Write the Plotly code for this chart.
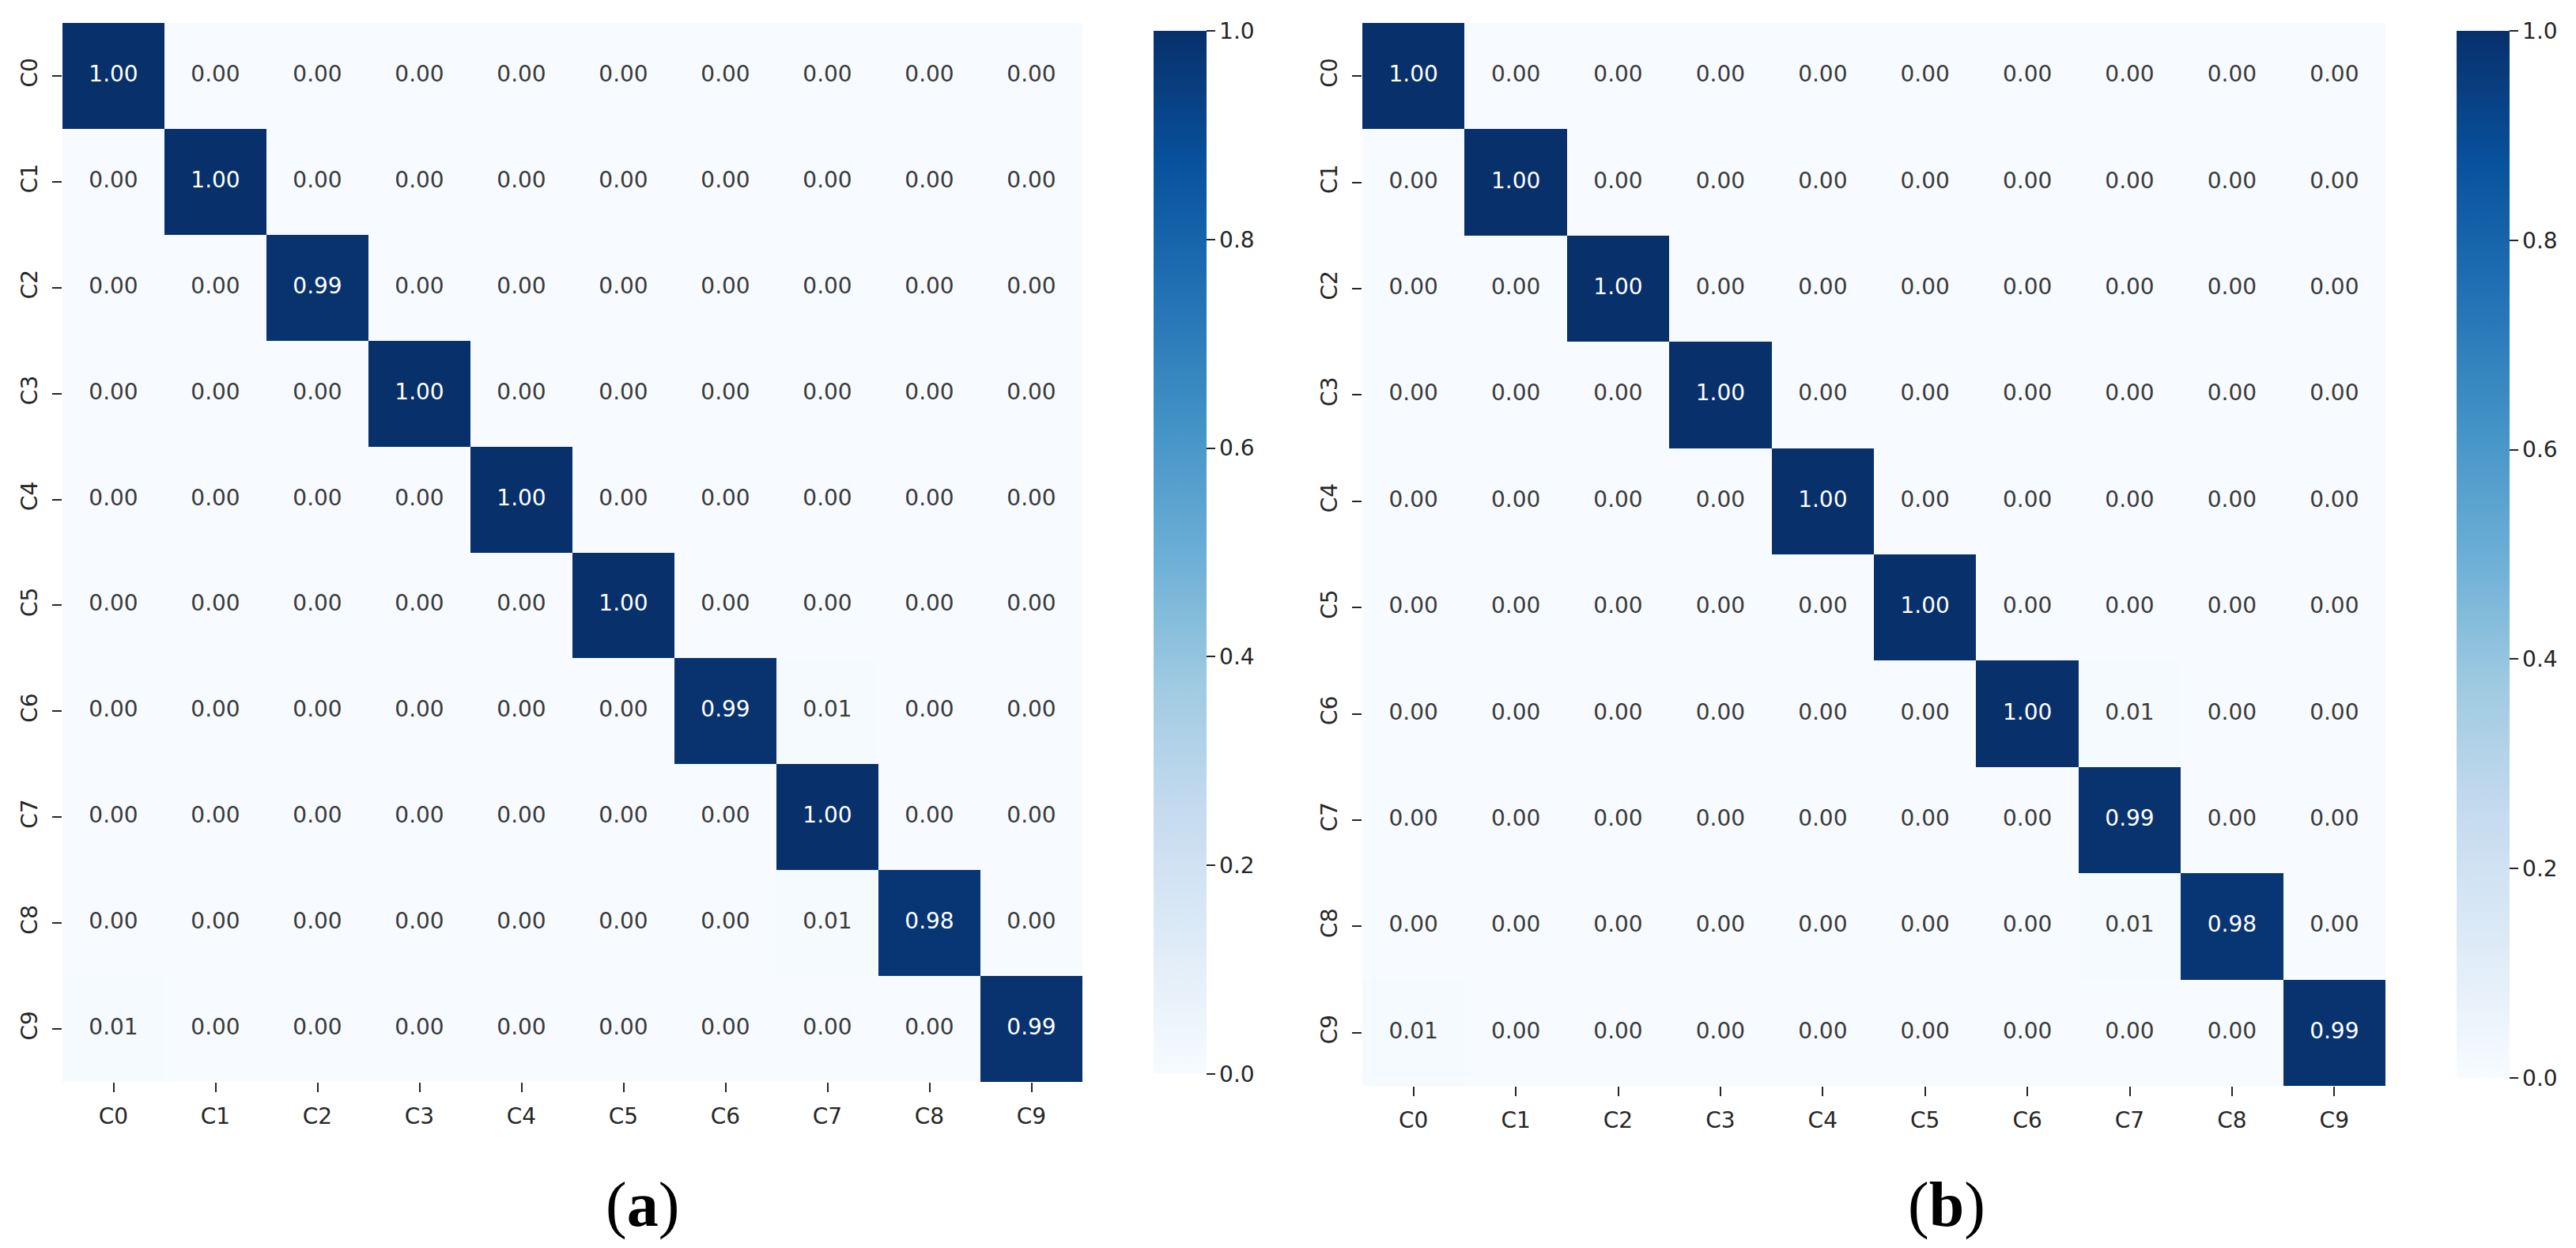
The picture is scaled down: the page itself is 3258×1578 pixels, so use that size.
import plotly.graph_objects as go

W, H = 3258, 1578

classes = ["C0", "C1", "C2", "C3", "C4", "C5", "C6", "C7", "C8", "C9"]

# Panel (a) confusion matrix (rows = true, cols = predicted)
cm_a = [
    [1.00, 0.00, 0.00, 0.00, 0.00, 0.00, 0.00, 0.00, 0.00, 0.00],
    [0.00, 1.00, 0.00, 0.00, 0.00, 0.00, 0.00, 0.00, 0.00, 0.00],
    [0.00, 0.00, 0.99, 0.00, 0.00, 0.00, 0.00, 0.00, 0.00, 0.00],
    [0.00, 0.00, 0.00, 1.00, 0.00, 0.00, 0.00, 0.00, 0.00, 0.00],
    [0.00, 0.00, 0.00, 0.00, 1.00, 0.00, 0.00, 0.00, 0.00, 0.00],
    [0.00, 0.00, 0.00, 0.00, 0.00, 1.00, 0.00, 0.00, 0.00, 0.00],
    [0.00, 0.00, 0.00, 0.00, 0.00, 0.00, 0.99, 0.01, 0.00, 0.00],
    [0.00, 0.00, 0.00, 0.00, 0.00, 0.00, 0.00, 1.00, 0.00, 0.00],
    [0.00, 0.00, 0.00, 0.00, 0.00, 0.00, 0.00, 0.01, 0.98, 0.00],
    [0.01, 0.00, 0.00, 0.00, 0.00, 0.00, 0.00, 0.00, 0.00, 0.99],
]

# Panel (b) confusion matrix
cm_b = [
    [1.00, 0.00, 0.00, 0.00, 0.00, 0.00, 0.00, 0.00, 0.00, 0.00],
    [0.00, 1.00, 0.00, 0.00, 0.00, 0.00, 0.00, 0.00, 0.00, 0.00],
    [0.00, 0.00, 1.00, 0.00, 0.00, 0.00, 0.00, 0.00, 0.00, 0.00],
    [0.00, 0.00, 0.00, 1.00, 0.00, 0.00, 0.00, 0.00, 0.00, 0.00],
    [0.00, 0.00, 0.00, 0.00, 1.00, 0.00, 0.00, 0.00, 0.00, 0.00],
    [0.00, 0.00, 0.00, 0.00, 0.00, 1.00, 0.00, 0.00, 0.00, 0.00],
    [0.00, 0.00, 0.00, 0.00, 0.00, 0.00, 1.00, 0.01, 0.00, 0.00],
    [0.00, 0.00, 0.00, 0.00, 0.00, 0.00, 0.00, 0.99, 0.00, 0.00],
    [0.00, 0.00, 0.00, 0.00, 0.00, 0.00, 0.00, 0.01, 0.98, 0.00],
    [0.01, 0.00, 0.00, 0.00, 0.00, 0.00, 0.00, 0.00, 0.00, 0.99],
]

cbar_ticks = [0.0, 0.2, 0.4, 0.6, 0.8, 1.0]
panel_labels = ["(<b>a</b>)", "(<b>b</b>)"]

blues = [
    [0.0, "#f7fbff"], [0.125, "#deebf7"], [0.25, "#c6dbef"],
    [0.375, "#9ecae1"], [0.5, "#6baed6"], [0.625, "#4292c6"],
    [0.75, "#2171b5"], [0.875, "#08519c"], [1.0, "#08306b"],
]

DARK = "#262626"
CELL_DARK = "#3a3a3a"
FONT = "DejaVu Sans"

def px_x(p):
    return p / W

def px_y(p):
    return 1 - p / H

panels = [
    dict(cm=cm_a, x0=79, x1=1369, y0=29, y1=1368, cb_x=1449, label_x=812),
    dict(cm=cm_b, x0=1723, x1=3017, y0=29, y1=1373, cb_x=3097, label_x=2462),
]

fig = go.Figure()
layout = dict(
    width=W, height=H,
    margin=dict(l=0, r=0, t=0, b=0),
    paper_bgcolor="white", plot_bgcolor="white",
    showlegend=False,
    annotations=[],
)

for i, p in enumerate(panels):
    xa = "x" if i == 0 else "x2"
    ya = "y" if i == 0 else "y2"
    cm = p["cm"]
    fig.add_trace(go.Heatmap(
        z=cm, x=classes, y=classes,
        colorscale=blues, zmin=0, zmax=1,
        xaxis=xa, yaxis=ya, hoverinfo="skip",
        colorbar=dict(
            x=px_x(p["cb_x"]), xanchor="left", xref="paper",
            y=px_y(p["y0"]), yanchor="top",
            thickness=67, thicknessmode="pixels",
            len=p["y1"] - p["y0"], lenmode="pixels",
            outlinewidth=0,
            tickvals=cbar_ticks, tickformat=".1f",
            ticks="outside", ticklen=11, tickwidth=2, tickcolor=DARK,
            tickfont=dict(family=FONT, size=28, color=DARK),
        ),
    ))
    xs, ys, txt, cols = [], [], [], []
    for r, row in enumerate(cm):
        for c, v in enumerate(row):
            xs.append(classes[c])
            ys.append(classes[r])
            txt.append(f"{v:.2f}")
            cols.append("white" if v > 0.5 else CELL_DARK)
    fig.add_trace(go.Scatter(
        x=xs, y=ys, text=txt, mode="text",
        textfont=dict(family=FONT, size=28, color=cols),
        xaxis=xa, yaxis=ya, hoverinfo="skip",
    ))
    axis_common = dict(
        type="category", showgrid=False, zeroline=False, showline=False,
        ticks="outside", ticklen=12, tickwidth=2, tickcolor=DARK,
        tickfont=dict(family=FONT, size=28, color=DARK),
    )
    xname = "xaxis" if i == 0 else "xaxis2"
    yname = "yaxis" if i == 0 else "yaxis2"
    layout[xname] = dict(axis_common, domain=[px_x(p["x0"]), px_x(p["x1"])],
                         anchor=ya, tickangle=0, ticklabelstandoff=6)
    layout[yname] = dict(axis_common, domain=[px_y(p["y1"]), px_y(p["y0"])],
                         anchor=xa, autorange="reversed", tickangle=-90,
                         ticklabelstandoff=8)
    layout["annotations"].append(dict(
        text=panel_labels[i], xref="paper", yref="paper",
        x=px_x(p["label_x"]), y=px_y(1523), xanchor="center", yanchor="middle",
        showarrow=False,
        font=dict(family="Liberation Serif", size=80, color="black"),
    ))

fig.update_layout(**layout)
fig.write_html("out.html")
